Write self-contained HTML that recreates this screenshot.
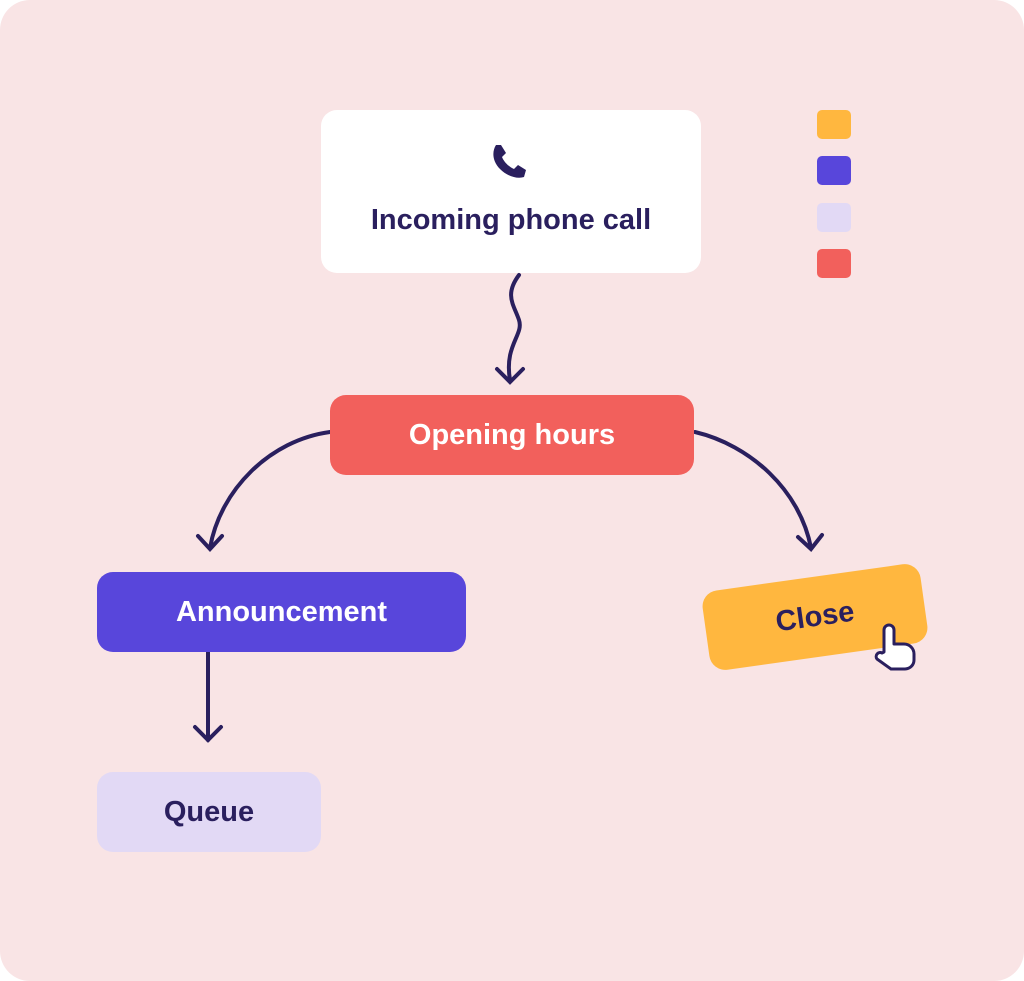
<!DOCTYPE html>
<html><head><style>
body{margin:0;width:1024px;height:981px;background:#fff;overflow:hidden;font-family:"Liberation Sans",sans-serif}
.bg{position:absolute;left:0;top:0;width:1024px;height:981px;background:#f9e4e5;border-radius:30px}
.box{position:absolute;display:flex;align-items:center;justify-content:center;border-radius:16px;font-size:29px;font-weight:bold}
.sw{position:absolute;left:817px;width:34px;height:29px;border-radius:5px}
</style></head><body>
<div class="bg"></div>
<div class="box" style="left:321px;top:110px;width:380px;height:163px;background:#fff;color:#2a1f5e"><span style="position:absolute;top:94px">Incoming phone call</span></div>
<svg style="position:absolute;left:0;top:0" width="1024" height="981">
<path d="M496 145 c-4 6 -4 16 4 24 c8 8 18 10 24 8 l2 -7 l-8 -5 l-4 4 c-5 -2 -10 -7 -12 -12 l4 -4 l-5 -8 z" fill="#2a1f5e"/>
<g fill="none" stroke="#2a1f5e" stroke-width="4" stroke-linecap="round">
<path d="M519 275 c-15 20 -5 30 0 45 c5 15 -15 25 -9 60"/>
<path d="M497 369 l13 13 l13 -13"/>
<path d="M330 432 C270 440 220 490 210 548"/>
<path d="M198 536 l12 13 l12 -13"/>
<path d="M695 432 C750 445 800 490 811 548"/>
<path d="M798 537 l13 12 l11 -14"/>
<path d="M208 652 L208 740"/>
<path d="M195 727 l13 13 l13 -13"/>
</g>
</svg>
<div class="box" style="left:330px;top:395px;width:364px;height:80px;background:#f2605c;color:#fff">Opening hours</div>
<div class="box" style="left:97px;top:572px;width:369px;height:80px;background:#5846db;color:#fff">Announcement</div>
<div class="box" style="left:97px;top:772px;width:224px;height:80px;background:#e2d9f5;color:#2a1f5e">Queue</div>
<div class="box" style="left:705px;top:577px;width:220px;height:80px;background:#ffb73f;color:#2a1f5e;transform:rotate(-8deg)">Close</div>
<svg style="position:absolute;left:870px;top:622px" width="50" height="50"><path d="M14 30 V8 a5 5 0 0 1 10 0 V22 h10 a10 10 0 0 1 10 10 v6 a9 9 0 0 1 -9 9 h-14 l-14 -10 a4 4 0 0 1 5 -6 z" fill="#fff" stroke="#2a1f5e" stroke-width="3" stroke-linejoin="round"/></svg>
<div class="sw" style="top:110px;background:#ffb73f"></div>
<div class="sw" style="top:156px;background:#5846db"></div>
<div class="sw" style="top:203px;background:#e2d9f5"></div>
<div class="sw" style="top:249px;background:#f2605c"></div>
</body></html>
